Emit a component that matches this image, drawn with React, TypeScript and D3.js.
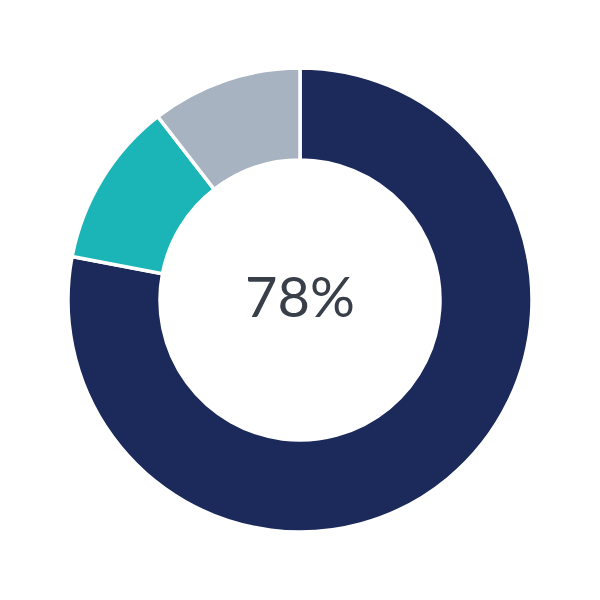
import { useEffect, useRef } from 'react';
import * as d3 from 'd3';

const labels = ['Primary', 'Secondary', 'Other'];
const values = [78, 11.5, 10.5];
const colors = ['#1b2a5a', '#1bb5b7', '#a8b3c1'];
const centerLabel = '78%';

const width = 600;
const height = 600;
const outerRadius = 232;
const innerRadius = 140;

const App = () => {
    const svgRef = useRef<SVGSVGElement>(null);

    useEffect(() => {
        d3.select(svgRef.current).selectAll('*').remove();

        const svg = d3
            .select(svgRef.current)
            .attr('width', width)
            .attr('height', height)
            .append('g')
            .attr('transform', `translate(${width / 2},${height / 2})`);

        const pie = d3
            .pie<number>()
            .sort(null)
            .value(d => d);

        const arc = d3
            .arc<d3.PieArcDatum<number>>()
            .innerRadius(innerRadius)
            .outerRadius(outerRadius);

        svg.selectAll('path')
            .data(pie(values))
            .join('path')
            .attr('d', arc)
            .attr('fill', (_, i) => colors[i])
            .attr('stroke', '#ffffff')
            .attr('stroke-width', 3.5)
            .append('title')
            .text((_, i) => labels[i]);

        // center value
        svg.append('text')
            .attr('text-anchor', 'middle')
            .attr('y', -3)
            .attr('dy', '0.35em')
            .attr('font-family', 'Lato, sans-serif')
            .attr('font-size', 56)
            .attr('fill', '#383f49')
            .text(centerLabel);
    }, []);

    return (
        <div style={{ position: 'absolute', left: 0, top: 0, background: '#fff' }}>
            <svg ref={svgRef}></svg>
        </div>
    );
};

export default App;
